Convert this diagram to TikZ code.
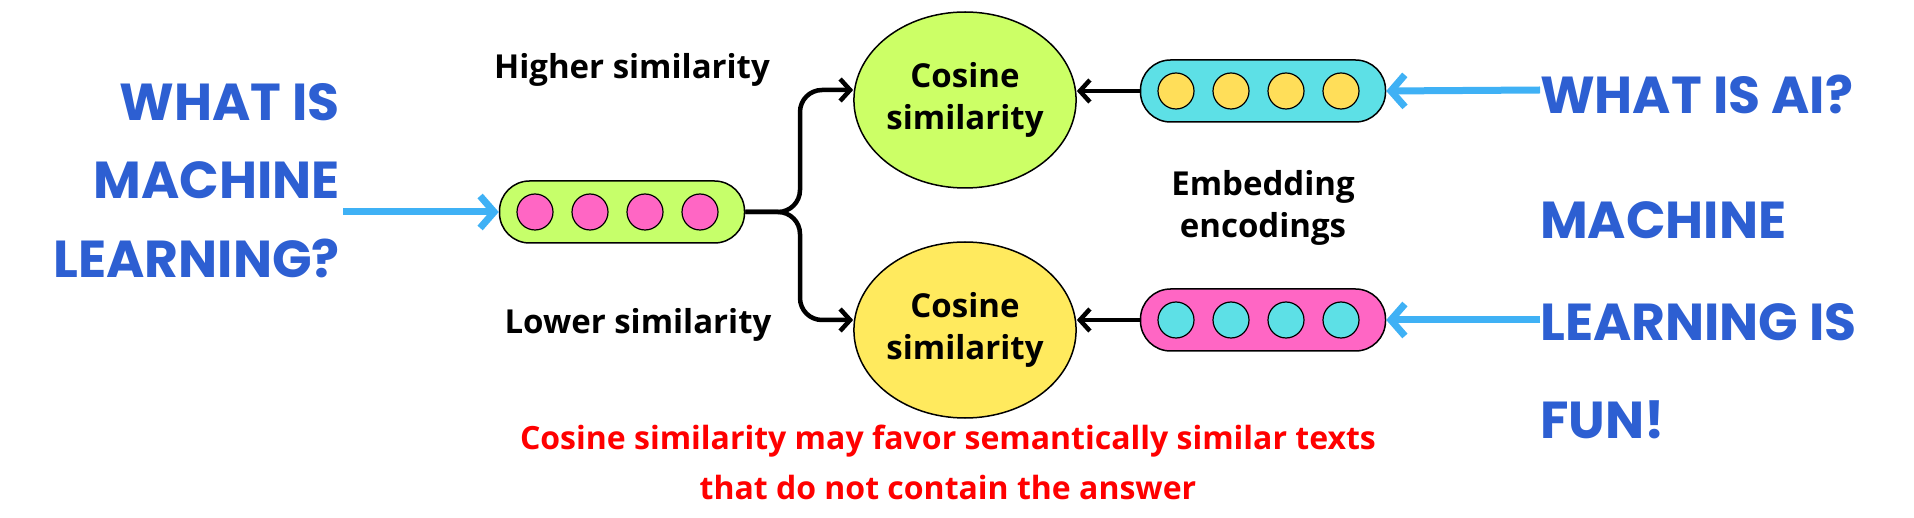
\documentclass[tikz,border=0pt]{standalone}
\usepackage{fontspec}
\setmainfont{Open Sans}
\newfontfamily\bigfont{Poppins}
\usetikzlibrary{arrows.meta,shapes.geometric}
\definecolor{bluetxt}{HTML}{2D5FD2}
\definecolor{arrblue}{HTML}{3FB1F5}
\definecolor{lgreen}{HTML}{C6FF6A}
\definecolor{pinkc}{HTML}{FF66C4}
\definecolor{cyanc}{HTML}{5DE0E6}
\definecolor{yellc}{HTML}{FFDE59}
\definecolor{yellb}{HTML}{FFEA5E}
\definecolor{greenb}{HTML}{CCFF66}
\tikzset{
 big/.style={font=\bigfont\bfseries\fontsize{52}{52}\selectfont, text=bluetxt, inner sep=0},
 lab/.style={font=\bfseries\fontsize{33}{42}\selectfont, align=center},
 pill/.style={draw, line width=1.5pt, rounded corners=30, minimum width=245, minimum height=62},
 dot/.style={circle, draw, line width=1.2pt, minimum size=36, inner sep=0},
 barr/.style={arrblue, line width=7pt, -{Straight Barb[length=14pt,width=32pt]}},
 karr/.style={line width=4.5pt, -{Straight Barb[length=10pt,width=22pt]}},
 cs/.style={ellipse, draw, line width=1.5pt, minimum width=200, minimum height=176, lab, inner sep=0}
}
\begin{document}
\begin{tikzpicture}[x=1pt,y=-1pt]
\useasboundingbox (0,0) rectangle (1914,518);
\node[big, anchor=east] (l1) at (340,102) {WHAT IS};
\node[big, anchor=east] (l2) at (340,180) {MACHINE};
\node[big, anchor=east] (l3) at (340,258) {LEARNING?};
\node[big, anchor=west] (r0) at (1540,94) {WHAT IS AI?};
\node[big, anchor=west] (r1) at (1540,220) {MACHINE};
\node[big, anchor=west] (r2) at (1540,322) {LEARNING IS};
\node[big, anchor=west] (r3) at (1540,420) {FUN!};
\node[pill, fill=lgreen] (lp) at (622,212) {};
\foreach \i/\x in {1/535,2/590,3/645,4/700}{\node[dot, fill=pinkc] (ld\i) at (\x,212) {};}
\node[pill, fill=cyanc] (tp) at (1263,91) {};
\foreach \i/\x in {1/1176,2/1231,3/1286,4/1341}{\node[dot, fill=yellc] (td\i) at (\x,91) {};}
\node[pill, fill=pinkc] (bp) at (1263,320) {};
\foreach \i/\x in {1/1176,2/1231,3/1286,4/1341}{\node[dot, fill=cyanc] (bd\i) at (\x,320) {};}
\node[cs, fill=greenb] (ct) at (965,100) {Cosine\\similarity};
\node[cs, fill=yellb] (cb) at (965,330) {Cosine\\similarity};
\node[lab] (hs) at (632,70) {Higher similarity};
\node[lab] (ls) at (638,325) {Lower similarity};
\node[lab] (ee) at (1263,208) {Embedding\\encodings};
\node[lab, text=red, font=\bfseries\fontsize{32}{50}\selectfont] (note) at (948,462) {Cosine similarity may favor semantically similar texts\\that do not contain the answer};
\draw[barr] (343,212) -- (lp.west);
\draw[barr] (1540,90) -- (tp.east);
\draw[barr] (1540,320) -- (bp.east);
\coordinate (br) at (800,212);
\draw[karr, rounded corners=22] (lp.east) -- (br) -- (800,90) -- (ct.west |- 0,90);
\draw[karr, rounded corners=22] (lp.east) -- (br) -- (800,320) -- (cb.west |- 0,320);
\draw[karr] (tp.west) -- (ct.east |- tp.west);
\draw[karr] (bp.west) -- (cb.east |- bp.west);
\end{tikzpicture}
\end{document}
